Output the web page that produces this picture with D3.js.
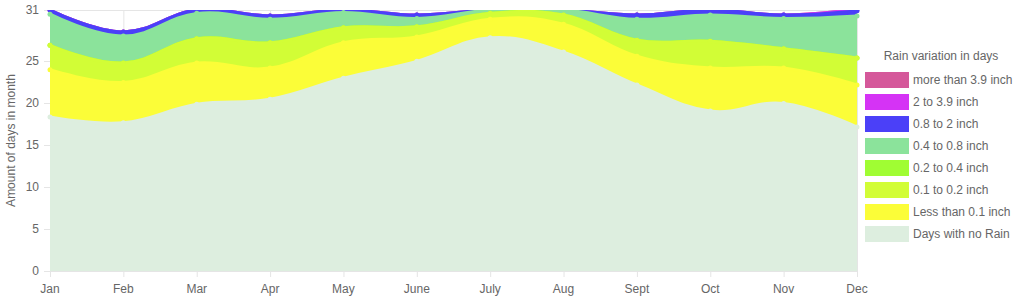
<!DOCTYPE html>
<html>
<head>
<meta charset="utf-8">
<script src="https://cdn.jsdelivr.net/npm/d3@7"></script>
<style>
  body { margin: 0; background: #fff; }
  text { font-family: "Liberation Sans", Arial, sans-serif; font-size: 12px; fill: #666; }
</style>
</head>
<body>
<div class="graph-section"></div>
<script>
// months on the x axis
var months = ["Jan", "Feb", "Mar", "Apr", "May", "June", "July", "Aug", "Sept", "Oct", "Nov", "Dec"];

// days per month in each rain class (bottom of stack first)
var noRain   = [18.3, 17.6, 19.8, 20.4, 22.9, 24.9, 27.7, 26.0, 22.1, 19.0, 19.9, 17.1];
var lt01     = [5.6, 4.8, 4.9, 3.7, 4.2, 2.9, 2.2, 3.3, 3.4, 5.1, 4.2, 5.0];
var in01to02 = [2.9, 2.3, 2.9, 3.0, 1.8, 1.2, 0.7, 1.1, 1.9, 3.2, 2.3, 3.2];
var in02to04 = [0, 0, 0, 0, 0, 0, 0, 0, 0, 0, 0, 0];
var in04to08 = [3.7, 3.2, 3.0, 2.8, 1.8, 1.0, 0.4, 0.6, 2.5, 3.1, 3.6, 5.0];
var in08to2  = [0.5, 0.5, 0.4, 0.4, 0.3, 0.4, 0, 0, 0.5, 0.6, 0.4, 0.6];
var in2to39  = [0, 0, 0, 0, 0, 0, 0, 0, 0, 0, 0, 0.2];
var gt39     = [0, 0, 0, 0, 0, 0, 0, 0, 0, 0, 0, 0];

var yTicks = [0, 5, 10, 15, 20, 25, 31];

var series = [
  {name: "Days with no Rain", values: noRain, color: "#ddeedf"},
  {name: "Less than 0.1 inch", values: lt01, color: "#fbfd38"},
  {name: "0.1 to 0.2 inch", values: in01to02, color: "#d2fd36"},
  {name: "0.2 to 0.4 inch", values: in02to04, color: "#a0fd33"},
  {name: "0.4 to 0.8 inch", values: in04to08, color: "#8be39b"},
  {name: "0.8 to 2 inch", values: in08to2, color: "#4b40f8"},
  {name: "2 to 3.9 inch", values: in2to39, color: "#d533f5"},
  {name: "more than 3.9 inch", values: gt39, color: "#d5589a"}
];

var screen = {width: 1024, height: 300};
var margins = {top: 10, bottom: 29, left: 50, right: 167};

var svg = d3.select(".graph-section")
            .append("svg")
            .attr("width", screen.width)
            .attr("height", screen.height);

var xScale = d3.scalePoint()
               .domain(months)
               .range([margins.left, screen.width - margins.right]);

var yScale = d3.scaleLinear()
               .domain([0, 31])
               .range([screen.height - margins.bottom, margins.top]);

// build stacked table from the arrays
var table = months.map(function(m, i){
  var row = {month: m};
  series.forEach(function(s){ row[s.name] = s.values[i]; });
  return row;
});
var stacked = d3.stack().keys(series.map(function(s){ return s.name; }))(table);

// grid
var grid = svg.append("g");
grid.selectAll("line.v")
    .data(months)
    .enter()
    .append("line")
    .attr("x1", function(d){ return xScale(d) + 0.5; })
    .attr("x2", function(d){ return xScale(d) + 0.5; })
    .attr("y1", margins.top)
    .attr("y2", yScale(0) + 6)
    .attr("stroke", "#e5e5e5");
grid.selectAll("line.h")
    .data(yTicks)
    .enter()
    .append("line")
    .attr("x1", margins.left - 6)
    .attr("x2", xScale("Dec"))
    .attr("y1", function(d){ return Math.round(yScale(d)) + 0.5; })
    .attr("y2", function(d){ return Math.round(yScale(d)) + 0.5; })
    .attr("stroke", "#e5e5e5");

svg.append("clipPath")
   .attr("id", "plotClip")
   .append("rect")
   .attr("x", margins.left - 4)
   .attr("y", margins.top)
   .attr("width", xScale("Dec") - margins.left + 8)
   .attr("height", yScale(0) - margins.top + 4);

var curve = d3.curveCardinal.tension(-0.2);

var area = d3.area()
             .x(function(d){ return xScale(d.data.month); })
             .y0(yScale(0))
             .y1(function(d){ return yScale(d[1]); })
             .curve(curve);

var line = d3.line()
             .x(function(d){ return xScale(d.data.month); })
             .y(function(d){ return yScale(d[1]); })
             .curve(curve);

var plot = svg.append("g").attr("clip-path", "url(#plotClip)");

// last dataset drawn first, like the original
var layers = plot.selectAll("g.layer")
                 .data(stacked.slice().reverse())
                 .enter()
                 .append("g")
                 .classed("layer", true);

layers.append("path")
      .attr("d", area)
      .attr("fill", function(d){ return series[d.index].color; });

layers.append("path")
      .attr("d", line)
      .attr("fill", "none")
      .attr("stroke", function(d){ return series[d.index].color; })
      .attr("stroke-width", 3);

layers.selectAll("circle")
      .data(function(d){ return d.map(function(p){ return {p: p, c: series[d.index].color}; }); })
      .enter()
      .append("circle")
      .attr("cx", function(d){ return xScale(d.p.data.month); })
      .attr("cy", function(d){ return yScale(d.p[1]); })
      .attr("r", 2.5)
      .attr("fill", function(d){ return d.c; });

// axis labels
svg.append("g")
   .selectAll("text")
   .data(yTicks)
   .enter()
   .append("text")
   .attr("x", margins.left - 11)
   .attr("y", function(d){ return yScale(d); })
   .attr("dy", "0.35em")
   .attr("text-anchor", "end")
   .text(function(d){ return d; });

svg.append("g")
   .selectAll("text")
   .data(months)
   .enter()
   .append("text")
   .attr("x", function(d){ return xScale(d); })
   .attr("y", 293)
   .attr("text-anchor", "middle")
   .text(function(d){ return d; });

svg.append("text")
   .attr("transform", "translate(15," + ((yScale(0) + yScale(31)) / 2) + ") rotate(-90)")
   .attr("text-anchor", "middle")
   .text("Amount of days in month");

// legend
var legend = svg.append("g")
                .attr("transform", "translate(865,72)");

legend.append("text")
      .attr("x", 76)
      .attr("y", -12)
      .attr("text-anchor", "middle")
      .text("Rain variation in days");

var legendLines = legend.selectAll("g")
                        .data(series.slice().reverse())
                        .enter()
                        .append("g")
                        .attr("transform", function(d, i){ return "translate(0," + (i * 22) + ")"; });

legendLines.append("rect")
           .attr("width", 44)
           .attr("height", 16)
           .attr("fill", function(d){ return d.color; });

legendLines.append("text")
           .attr("x", 48)
           .attr("y", 12)
           .text(function(d){ return d.name; });
</script>
</body>
</html>
